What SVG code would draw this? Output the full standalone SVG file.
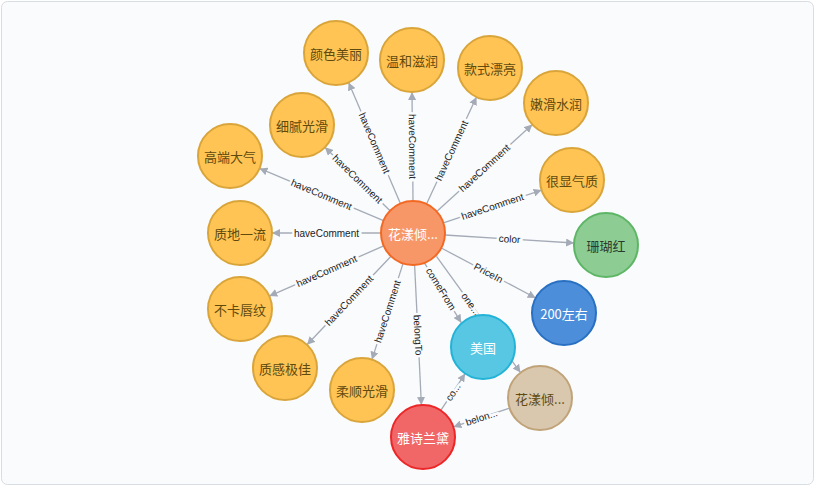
<svg xmlns="http://www.w3.org/2000/svg" width="815" height="486" viewBox="0 0 815 486">
<style>
.e line{stroke:#a5abb6;stroke-width:1.3;marker-end:url(#ar)}
.e text{font:10px "Liberation Sans","Noto Sans CJK SC",sans-serif;fill:#222;text-anchor:middle;dominant-baseline:central;stroke:#f9fbfd;stroke-width:5;paint-order:stroke}
.n circle{stroke-width:2}
.n text{font:13px "Noto Sans CJK SC",sans-serif;text-anchor:middle;dominant-baseline:central}
.o circle{fill:#ffc454;stroke:#d9a53b}.o text{fill:#604a0e}
</style>
<defs><marker id="ar" viewBox="0 0 10 10" refX="10" refY="5" markerWidth="8" markerHeight="8" markerUnits="userSpaceOnUse" orient="auto"><path d="M0,0L10,5L0,10z" fill="#a5abb6"/></marker></defs>
<rect x="1.5" y="1.5" width="812" height="483" rx="6" fill="#f9fbfd" stroke="#d8dde3"/>
<g id="connectors" class="e">
<line x1="400.4" y1="203.6" x2="348.6" y2="82.4"/><text transform="translate(374.5,143) rotate(66.8)">haveComment</text>
<line x1="413" y1="201" x2="412" y2="92"/><text transform="translate(412.5,146.5) rotate(89.7)">haveComment</text>
<line x1="426.5" y1="204" x2="476.5" y2="97"/><text transform="translate(451.5,150.5) rotate(-65)">haveComment</text>
<line x1="436.7" y1="211.4" x2="532.3" y2="124.6"/><text transform="translate(484.5,168) rotate(-42.3)">haveComment</text>
<line x1="443.4" y1="222.9" x2="541.6" y2="190.1"/><text transform="translate(492.5,206.5) rotate(-18.4)">haveComment</text>
<line x1="390.1" y1="210.7" x2="324.9" y2="147.3"/><text transform="translate(357.5,179) rotate(44.2)">haveComment</text>
<line x1="383.5" y1="220.6" x2="259.5" y2="168.4"/><text transform="translate(321.5,194.5) rotate(22.8)">haveComment</text>
<line x1="381" y1="233" x2="272" y2="233"/><text transform="translate(326.5,233)">haveComment</text>
<line x1="383.7" y1="245.9" x2="269.3" y2="296.1"/><text transform="translate(326.5,271) rotate(-23.7)">haveComment</text>
<line x1="391" y1="256.2" x2="307" y2="344.8"/><text transform="translate(349,300.5) rotate(-46.5)">haveComment</text>
<line x1="403.1" y1="263.4" x2="371.9" y2="359.6"/><text transform="translate(387.5,311.5) rotate(-72)">haveComment</text>
<line x1="444.9" y1="235" x2="574.1" y2="243"/><text transform="translate(509.5,239) rotate(3.6)">color</text>
<line x1="441.3" y1="248" x2="535.7" y2="298"/><text transform="translate(488.5,273) rotate(27.9)">PriceIn</text>
<line x1="424.7" y1="263.3" x2="461.3" y2="322.7"/><text transform="translate(441,289) rotate(58.4)">comeFrom</text>
<line x1="436.5" y1="256.4" x2="520.5" y2="372.6"/><text transform="translate(471,304) rotate(54)">one...</text>
<line x1="414.6" y1="265" x2="421.4" y2="405"/><text transform="translate(418,335) rotate(87.2)">belongTo</text>
<line x1="440.8" y1="410.4" x2="465.2" y2="373.6"/><text transform="translate(453,392) rotate(-56.3)">co...</text>
<line x1="509.6" y1="408.1" x2="453.4" y2="426.9"/><text transform="translate(481.5,417.5) rotate(-18.4)">belon...</text>
</g>
<g id="n-yanse" class="n o"><circle cx="336" cy="53" r="32"/><text x="336" y="53">颜色美丽</text></g>
<g id="n-wenhe" class="n o"><circle cx="412" cy="60" r="32"/><text x="412" y="60">温和滋润</text></g>
<g id="n-kuanshi" class="n o"><circle cx="490" cy="68" r="32"/><text x="490" y="68">款式漂亮</text></g>
<g id="n-nenhua" class="n o"><circle cx="556" cy="103" r="32"/><text x="556" y="103">嫩滑水润</text></g>
<g id="n-henxian" class="n o"><circle cx="572" cy="180" r="32"/><text x="572" y="180">很显气质</text></g>
<g id="n-xini" class="n o"><circle cx="302" cy="125" r="32"/><text x="302" y="125">细腻光滑</text></g>
<g id="n-gaoduan" class="n o"><circle cx="230" cy="156" r="32"/><text x="230" y="156">高端大气</text></g>
<g id="n-zhidi" class="n o"><circle cx="240" cy="233" r="32"/><text x="240" y="233">质地一流</text></g>
<g id="n-buka" class="n o"><circle cx="240" cy="309" r="32"/><text x="240" y="309">不卡唇纹</text></g>
<g id="n-zhigan" class="n o"><circle cx="285" cy="368" r="32"/><text x="285" y="368">质感极佳</text></g>
<g id="n-roushun" class="n o"><circle cx="362" cy="390" r="32"/><text x="362" y="390">柔顺光滑</text></g>
<g id="n-center" class="n"><circle cx="413" cy="233" r="32" fill="#f79767" stroke="#f36924"/><text x="413" y="233" fill="#fff">花漾倾...</text></g>
<g id="n-shanhu" class="n"><circle cx="606" cy="245" r="32" fill="#8dcc93" stroke="#5db665"/><text x="606" y="245" fill="#2a3a2c">珊瑚红</text></g>
<g id="n-price" class="n"><circle cx="564" cy="313" r="32" fill="#4c8eda" stroke="#2870c2"/><text x="564" y="313" fill="#fff">200左右</text></g>
<g id="n-meiguo" class="n"><circle cx="483" cy="347" r="32" fill="#57c7e3" stroke="#23b3d7"/><text x="483" y="347" fill="#fff">美国</text></g>
<g id="n-huayang2" class="n"><circle cx="540" cy="398" r="32" fill="#d9c8ae" stroke="#c0a378"/><text x="540" y="398" fill="#604a0e">花漾倾...</text></g>
<g id="n-yashi" class="n"><circle cx="423" cy="437" r="32" fill="#f16667" stroke="#eb2728"/><text x="423" y="437" fill="#fff">雅诗兰黛</text></g>
</svg>
